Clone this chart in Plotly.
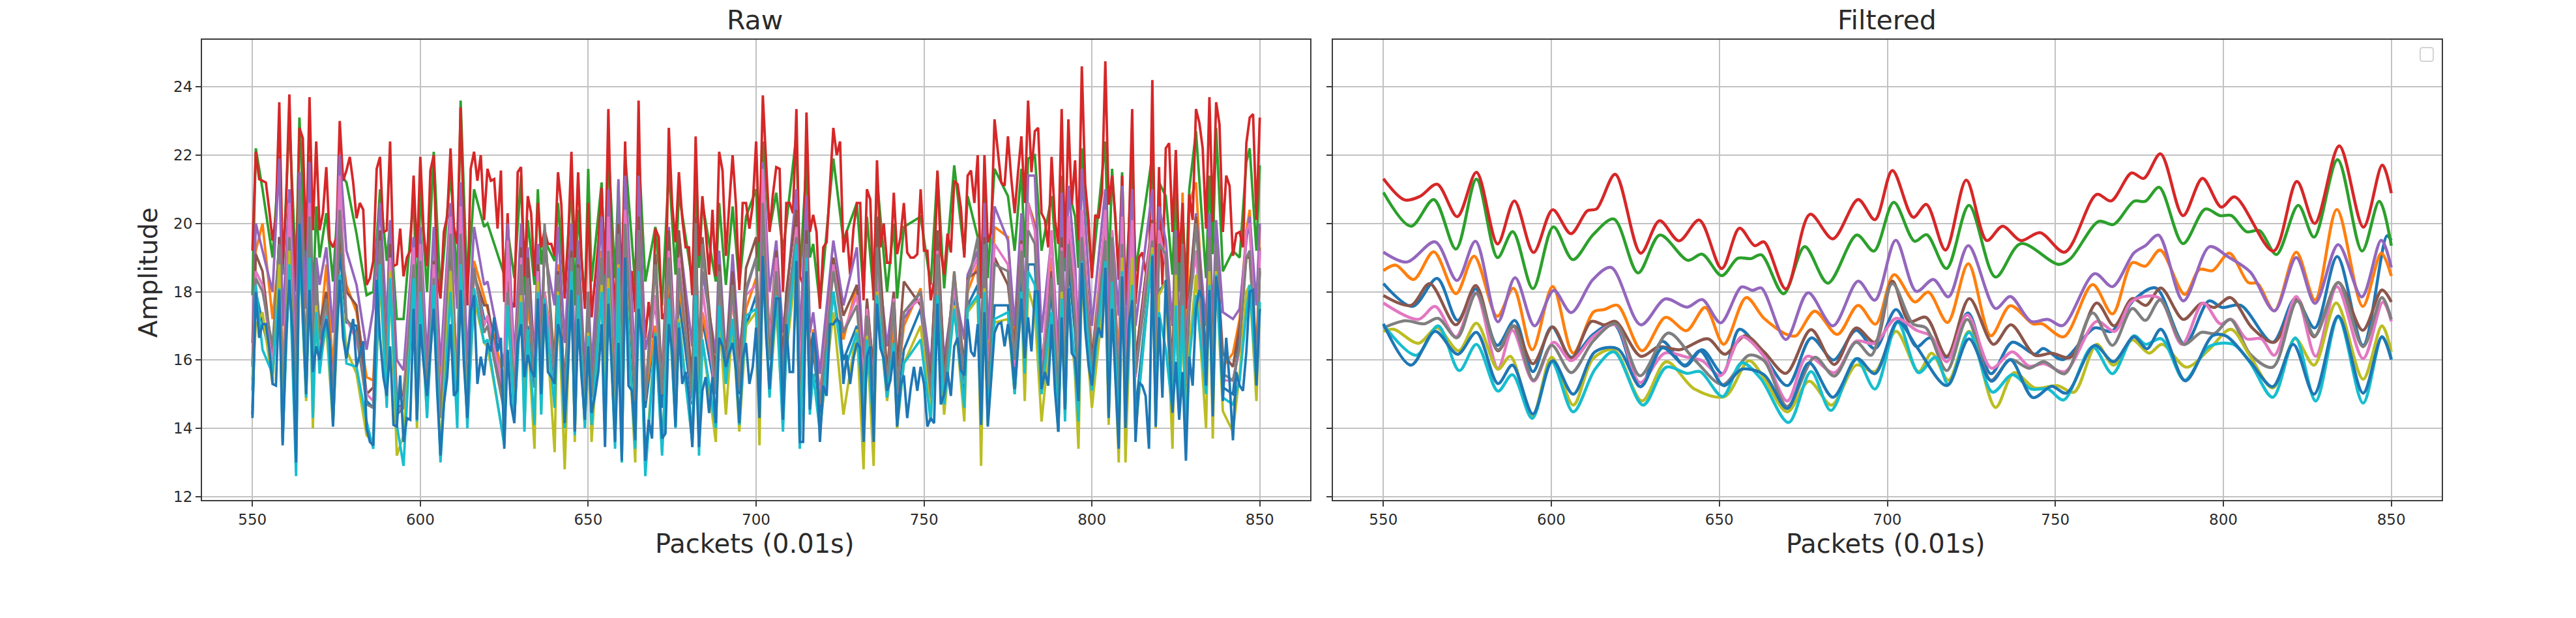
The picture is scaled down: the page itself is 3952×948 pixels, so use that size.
import plotly.graph_objects as go

W, H = 3952, 948
TAB = ["#1f77b4", "#ff7f0e", "#2ca02c", "#d62728", "#9467bd", "#8c564b", "#e377c2", "#7f7f7f", "#bcbd22", "#17becf", "#1f77b4"]

# ---------- RAW: packet-by-packet readings for the top (red) and bottom (blue) traces ----------
raw_start = 550
raw_red = [
19.2,22.1,21.3,21.25,21.2,20.4,19.5,20.2,23.55,18.8,
20.5,23.78,20.0,18.0,22.8,22.5,19.2,23.7,19.8,22.4,
19.8,20.3,21.65,19.5,19.3,19.6,23.0,21.25,21.55,21.95,
21.2,20.15,20.6,20.4,18.2,18.4,18.9,21.6,21.95,19.75,
19.8,22.4,18.75,18.8,19.85,18.45,19.0,19.2,21.4,19.0,
21.95,19.75,18.75,21.55,22.0,18.4,17.8,19.75,20.2,22.2,
19.9,19.4,23.4,19.8,17.6,21.6,22.1,21.25,22.0,20.1,
21.6,21.25,21.3,19.85,21.55,17.7,20.3,17.7,17.55,21.5,
21.65,18.45,20.8,20.3,18.45,20.6,19.3,19.8,19.4,19.4,
19.05,21.5,20.55,17.8,19.45,22.1,19.0,21.5,19.0,17.5,
20.6,17.25,18.35,19.4,21.05,18.5,23.35,19.0,17.4,20.5,
18.2,22.4,18.45,18.6,17.4,23.6,18.45,16.65,17.7,16.65,
19.85,19.6,17.2,17.4,22.8,20.55,19.45,21.5,20.15,19.3,
19.3,17.9,22.55,19.05,20.8,19.75,18.5,20.4,18.45,22.1,
21.55,19.05,20.55,22.0,20.55,18.05,20.6,20.6,19.85,20.55,
22.4,19.45,23.75,21.9,19.75,20.85,21.65,21.6,18.0,20.6,
20.6,20.3,23.35,18.45,18.2,23.25,19.75,20.25,19.75,17.5,
19.3,19.45,21.2,22.8,22.0,22.4,19.15,19.8,18.5,19.85,
20.6,20.6,17.75,21.0,20.7,17.75,21.85,19.3,20.0,18.85,
18.85,20.9,19.1,19.6,20.6,19.15,19.0,19.0,19.1,21.0,
19.2,19.2,17.75,18.3,21.55,19.15,18.5,19.7,19.15,21.25,
21.15,20.45,19.0,21.4,21.55,20.6,22.0,17.8,22.0,19.45,
19.75,23.05,22.1,21.2,21.1,22.55,21.3,20.3,21.5,22.55,
20.6,23.6,21.5,22.7,22.8,20.3,20.1,19.3,21.95,20.1,
19.4,23.35,19.0,23.05,20.55,21.85,19.5,24.6,21.15,20.1,
18.4,20.25,20.15,20.9,24.75,20.55,21.4,20.2,18.35,21.4,
17.6,19.75,23.35,17.65,19.0,19.15,18.6,18.1,24.2,17.45,
21.65,18.2,22.2,22.35,19.75,22.15,18.85,20.6,17.5,20.85,
20.1,23.35,22.95,22.2,19.85,23.7,20.05,23.55,22.9,19.75,
21.4,21.1,19.05,19.7,19.75,19.3,22.35,23.1,23.2,20.1,
23.1]
raw_blue2 = [
14.3,18.0,16.65,17.05,17.05,16.35,15.3,15.25,18.05,13.5,
16.65,18.35,16.65,13.0,20.0,17.4,15.0,18.05,15.65,16.4,
16.0,16.8,17.2,16.55,14.05,16.65,18.35,16.65,16.05,16.7,
17.2,15.8,16.2,16.55,14.0,13.6,13.5,18.35,16.65,15.5,
14.95,16.4,14.1,14.05,15.55,13.6,14.3,14.25,17.5,14.25,
17.05,15.85,14.95,16.25,17.5,15.1,13.2,14.7,15.5,17.05,
14.95,15.1,18.05,15.85,14.3,17.4,17.9,15.3,16.1,15.55,
16.5,16.25,17.25,16.25,16.65,13.4,16.3,14.7,14.15,16.5,
17.05,15.5,16.15,15.7,15.5,17.8,15.0,17.65,15.65,15.5,
15.3,17.05,16.65,14.15,15.85,18.05,13.9,17.2,15.5,14.25,
16.4,14.45,14.95,15.65,17.05,13.45,17.65,15.85,13.6,16.5,
13.05,19.0,15.25,15.1,13.65,17.5,16.65,13.05,14.25,13.7,
16.7,15.5,13.7,13.85,17.05,16.25,14.05,16.95,15.3,15.65,
14.95,13.45,16.1,13.45,15.1,15.5,14.45,15.5,14.15,16.65,
16.4,15.8,16.2,16.5,15.7,14.15,16.05,16.5,15.3,15.8,
16.95,14.3,19.05,16.65,15.15,16.7,17.8,17.8,14.25,17.05,
15.65,15.65,18.9,13.6,13.6,18.6,14.55,16.8,16.05,13.6,
15.25,14.95,17.05,17.05,17.2,17.1,15.3,16.15,15.3,16.05,
16.5,16.35,13.6,16.1,16.4,13.6,17.65,16.35,16.05,15.1,
15.4,16.25,14.05,15.25,15.55,14.3,15.15,15.8,15.1,15.8,
15.3,14.05,14.3,14.15,17.65,14.7,15.0,15.65,14.95,16.4,
16.65,15.7,15.55,17.2,16.25,16.1,17.05,14.1,17.4,14.05,
15.5,16.8,17.05,17.1,16.4,17.05,16.35,15.15,16.4,17.8,
16.05,17.25,16.25,18.0,18.0,15.15,15.65,15.25,17.05,15.1,
13.9,17.25,14.55,18.1,16.2,16.05,14.8,18.85,16.9,15.85,
15.25,16.4,16.95,16.65,18.7,14.3,17.5,15.5,13.4,18.45,
14.0,17.05,17.75,13.6,15.35,15.25,14.95,13.4,19.05,14.05,
17.25,14.9,18.35,16.4,14.45,15.95,14.25,15.65,13.05,16.1,
15.25,17.5,18.05,17.75,15.25,18.05,14.35,18.45,17.65,14.8,
16.65,15.35,13.65,15.65,15.25,15.1,16.25,18.0,18.05,15.25,
17.5]

# RAW: the tangled middle traces, read at the packets where the spikes turn
raw_mid_x = [
550,551,553,556,558,559,561,563,564,566,
567,568,569,570,572,574,576,578,581,584,
586,588,590,591,593,595,598,599,600,602,
604,606,609,611,612,614,616,619,620,625,
626,628,630,631,632,634,635,636,637,640,
641,643,645,646,647,649,650,651,654,655,
656,658,659,660,661,664,665,667,670,672,
674,676,677,681,682,683,684,688,689,691,
693,695,697,700,701,702,704,706,708,709,
712,713,715,716,717,719,723,726,730,732,
733,735,736,739,741,742,744,749,752,754,
756,759,762,763,766,767,768,769,771,775,
777,779,780,781,783,785,788,790,791,792,
793,795,796,797,800,804,805,806,808,809,
810,812,813,818,819,820,822,824,825,826,
827,828,829,831,834,835,836,837,839,842,
844,846,847,849,850]
raw_green = [
17.9,22.2,21.0,19.0,22.0,18.5,23.0,18.5,23.1,18.5,
22.0,17.5,20.5,19.0,20.3,18.3,21.5,21.2,19.7,17.9,
18.0,21.0,18.9,20.0,17.2,17.2,20.8,17.5,21.0,18.0,
22.1,17.9,21.5,18.2,23.6,18.0,21.0,19.9,20.0,18.5,
19.8,18.4,21.4,17.9,20.1,18.2,21.0,18.8,19.5,18.9,
20.6,18.0,21.2,17.6,20.4,17.6,21.6,18.3,21.2,17.9,
22.2,18.4,21.2,18.0,22.0,18.2,22.2,18.3,19.9,17.6,
21.6,18.5,20.9,18.3,21.3,18.7,20.6,18.3,20.6,18.2,
20.5,18.2,20.2,21.0,18.6,22.4,19.8,20.9,19.2,20.0,
22.6,18.4,21.8,19.0,19.4,17.6,21.9,19.5,20.6,18.0,
20.2,17.9,21.3,18.0,20.0,17.8,19.9,20.2,18.2,21.5,
18.1,21.7,19.1,20.8,19.6,17.9,21.7,18.4,21.6,20.8,
19.2,21.6,19.0,21.9,22.0,19.2,20.8,18.2,21.4,18.6,
21.0,20.2,18.7,22.2,18.5,22.4,18.3,21.6,18.5,21.5,
17.8,22.0,18.6,22.0,17.9,21.2,20.8,18.5,21.2,18.0,
20.4,18.2,21.0,22.7,18.4,21.4,19.1,22.8,18.6,19.2,
19.0,21.8,22.2,19.2,21.7]
raw_purple = [
16.5,20.0,19.2,18.0,21.9,17.0,21.0,16.8,21.5,17.5,
21.8,16.5,19.0,18.2,19.3,16.8,22.0,19.2,18.2,16.3,
17.5,20.6,17.0,20.1,16.0,15.7,19.6,16.5,19.9,16.0,
19.9,15.8,20.6,17.5,21.2,16.0,19.9,18.2,18.3,15.8,
20.0,16.0,20.0,16.5,19.3,16.0,19.4,17.0,19.2,17.6,
19.9,16.5,20.0,15.5,19.5,15.7,18.0,15.8,20.2,16.3,
21.0,16.2,21.3,16.0,21.4,15.8,21.4,16.3,17.6,15.6,
19.9,16.2,19.7,16.4,19.5,16.0,18.6,16.2,19.2,16.0,
19.1,16.2,18.0,19.0,16.6,21.8,18.0,19.5,16.8,17.8,
21.0,16.5,20.8,16.8,17.4,15.6,19.5,17.6,19.3,16.0,
17.7,15.6,19.2,16.4,18.0,15.6,17.2,18.0,15.8,19.3,
16.0,18.1,16.6,18.5,19.2,16.0,20.6,16.6,20.5,19.5,
17.0,20.3,17.3,21.4,21.4,16.8,19.6,16.2,20.9,16.4,
21.1,18.8,16.5,21.6,17.0,21.0,17.2,19.8,17.3,21.1,
16.4,21.0,17.0,21.0,16.0,20.5,19.5,17.0,19.8,16.6,
19.4,16.3,18.0,20.3,17.0,20.3,17.0,20.1,17.4,17.2,
17.5,19.5,20.2,17.6,20.0]
raw_orange = [
15.9,19.2,20.0,17.2,19.2,15.5,20.4,15.8,19.6,15.6,
19.6,15.6,18.2,16.6,18.8,15.7,19.6,18.2,17.4,15.5,
15.4,19.8,16.4,19.2,15.0,15.0,18.6,15.4,19.1,15.6,
19.2,15.2,19.4,15.5,19.9,15.3,18.9,17.8,17.5,15.4,
19.1,15.6,18.9,15.3,17.8,15.5,18.6,15.4,18.0,16.0,
18.8,15.0,18.8,14.8,18.0,15.0,17.3,15.4,19.2,15.2,
19.9,15.6,19.5,15.1,20.0,15.0,20.1,15.0,17.0,15.0,
18.6,15.8,18.2,15.4,18.4,15.4,17.4,15.4,18.0,15.6,
17.9,15.4,17.5,18.4,15.6,19.9,16.6,18.2,15.6,17.0,
19.3,15.6,19.1,15.2,16.9,15.0,18.7,16.6,18.2,15.4,
16.3,15.3,18.8,15.2,17.1,15.2,17.0,18.1,15.2,18.3,
15.0,18.6,15.3,18.0,18.8,15.3,19.9,15.4,19.9,19.6,
16.4,19.5,16.2,20.6,20.0,15.6,19.0,15.4,20.4,15.3,
19.8,17.4,15.4,20.3,16.0,20.2,15.9,19.2,16.0,20.0,
15.6,19.7,16.0,20.0,15.4,19.2,18.8,15.6,21.0,15.6,
20.9,15.8,20.6,21.2,15.8,20.0,15.9,19.6,15.8,16.2,
17.2,19.8,20.4,15.8,19.9]
raw_blue1 = [
14.4,18.0,17.1,15.8,19.6,14.0,19.4,14.3,20.0,15.5,
19.9,15.0,18.0,16.2,17.9,15.0,19.2,17.1,17.0,14.8,
14.6,19.2,16.0,18.8,14.6,14.7,18.0,14.8,18.2,15.2,
18.6,14.4,18.6,15.0,18.6,15.0,18.6,17.2,17.2,14.6,
18.2,14.9,18.4,15.2,17.0,15.2,18.4,15.4,18.0,15.4,
18.0,14.6,18.6,14.4,17.8,14.7,17.4,15.0,18.6,14.6,
18.8,14.4,18.3,14.4,20.0,14.4,18.8,14.6,17.0,14.6,
18.4,15.4,17.8,14.7,18.0,15.0,17.2,15.0,17.6,15.4,
17.2,15.0,17.0,17.9,15.0,19.8,16.0,18.2,15.0,17.1,
19.2,14.6,19.0,15.0,16.4,14.4,18.0,16.0,17.0,14.8,
16.2,14.4,18.4,15.0,16.6,14.6,16.3,17.5,15.0,18.0,
15.0,18.0,15.0,17.6,18.2,14.8,18.6,14.8,17.6,17.6,
15.5,18.6,15.8,18.8,18.8,15.4,18.0,14.4,18.0,14.8,
18.8,16.8,15.1,19.4,15.3,19.2,15.0,18.4,14.8,19.2,
14.6,18.6,14.5,19.2,14.8,18.0,18.3,15.0,17.8,14.8,
17.4,15.0,17.6,19.2,15.4,19.0,15.0,19.6,15.2,15.0,
16.8,19.6,20.0,15.6,19.3]
raw_brown = [
15.8,19.1,18.6,16.0,19.6,15.0,20.2,15.4,20.6,16.0,
20.3,15.5,18.2,17.0,18.0,15.2,19.7,18.0,17.6,15.0,
15.2,19.8,15.9,19.4,14.8,15.0,18.4,15.3,18.8,15.2,
18.9,14.9,19.4,15.4,20.0,15.0,18.5,17.6,17.6,14.8,
18.3,15.4,19.3,15.0,19.0,15.5,18.8,15.3,19.8,15.8,
18.6,15.2,19.2,14.8,18.8,15.0,17.7,15.1,18.9,15.2,
19.8,15.2,20.0,15.4,19.7,15.0,20.2,14.9,19.1,15.3,
19.8,15.3,19.8,15.4,20.2,15.3,19.6,15.5,18.8,15.8,
18.6,15.6,18.7,19.6,15.4,20.8,16.6,19.2,16.0,18.0,
20.4,15.2,19.8,16.2,16.8,14.9,19.0,17.3,18.2,15.6,
17.8,15.6,20.2,15.6,18.0,15.8,18.3,17.6,15.4,19.8,
15.6,18.4,15.8,18.4,18.6,15.6,19.6,15.4,19.0,18.2,
16.4,19.5,16.5,20.6,19.9,15.8,18.6,15.3,19.6,15.6,
19.8,17.6,15.6,20.1,16.0,19.9,15.6,19.6,15.4,19.6,
15.5,19.3,16.0,20.1,15.4,19.4,19.0,15.7,19.6,15.4,
18.8,15.6,18.0,20.2,16.0,19.6,15.8,19.2,16.2,15.8,
17.0,19.0,19.0,16.0,18.6]
raw_pink = [
15.4,18.6,18.2,15.8,19.3,14.8,20.6,15.0,20.0,15.6,
20.6,15.2,18.0,16.4,17.6,15.0,21.4,17.2,16.6,15.0,
14.8,19.4,15.7,19.0,14.5,14.7,19.3,15.1,19.4,15.0,
18.8,14.8,20.2,15.2,20.5,14.6,18.6,17.0,17.3,15.0,
19.5,15.4,19.0,15.1,18.4,15.5,18.6,15.2,18.0,15.6,
18.2,14.9,18.6,14.7,18.1,14.9,16.9,15.0,18.6,15.3,
20.2,15.0,18.8,15.0,20.4,15.0,19.8,15.1,17.9,15.2,
19.2,15.7,19.0,14.8,18.8,15.3,18.1,15.0,18.4,15.6,
17.9,15.4,17.9,18.2,15.0,21.6,16.4,19.0,15.4,17.1,
19.9,15.4,19.4,15.4,16.6,14.9,18.8,16.8,17.9,15.4,
17.5,15.2,18.8,15.2,17.8,15.0,17.4,17.8,14.8,19.2,
15.0,18.2,15.4,18.3,19.0,15.0,19.0,15.2,19.4,18.8,
15.8,19.4,16.0,20.6,19.8,15.4,19.8,15.0,19.3,15.2,
20.2,18.2,15.1,20.4,15.5,20.4,15.2,19.8,15.2,20.2,
15.2,20.1,15.5,20.0,15.0,19.8,18.8,15.3,18.8,15.2,
18.4,15.3,17.7,19.2,15.1,18.8,15.0,19.4,15.4,15.4,
16.3,19.8,20.0,15.2,19.2]
raw_gray = [
15.1,18.4,18.0,16.4,19.4,14.6,19.6,14.9,21.0,15.6,
20.2,15.2,18.6,16.6,17.8,14.9,20.4,17.2,16.8,14.7,
14.6,19.5,15.8,18.6,14.4,14.6,18.8,14.6,18.9,15.0,
18.4,14.3,19.7,15.0,19.7,14.7,18.7,16.8,17.0,14.5,
18.0,15.0,18.8,14.8,18.4,15.2,18.2,15.0,20.0,15.4,
18.5,14.9,19.0,14.6,18.7,14.8,18.0,14.9,19.0,15.0,
19.2,14.9,19.7,15.2,20.0,14.8,19.8,14.8,18.8,15.0,
19.0,15.0,18.7,14.9,20.0,15.0,19.4,15.0,18.6,15.6,
18.2,15.1,18.1,19.0,14.9,20.6,16.0,18.6,15.4,17.4,
19.6,14.7,19.4,15.6,16.5,14.7,18.6,16.8,17.6,15.0,
17.3,15.2,19.3,15.2,17.7,15.0,17.4,18.0,14.9,19.1,
15.2,18.6,15.4,18.2,19.6,15.0,19.4,14.9,18.8,18.6,
16.0,19.2,16.2,19.8,19.4,15.3,18.4,14.9,19.2,15.0,
19.4,17.2,15.1,19.6,15.7,19.5,15.2,19.6,15.0,19.4,
15.1,19.0,15.6,19.5,15.0,19.4,19.1,15.2,19.6,15.0,
19.4,15.3,17.4,20.0,15.4,19.6,15.4,19.4,15.6,15.4,
16.4,19.0,19.2,15.5,18.7]
raw_olive = [
15.4,17.0,17.4,15.3,18.8,13.7,19.2,13.4,19.3,14.8,
19.0,14.0,17.6,15.8,17.0,14.1,18.4,16.3,15.6,13.8,
13.6,18.4,14.7,18.6,13.2,13.8,18.0,14.0,17.6,14.4,
18.0,13.3,18.6,14.4,18.8,14.2,17.8,16.5,16.4,13.6,
17.6,14.4,17.9,14.0,16.8,13.4,18.3,14.5,17.8,13.3,
18.0,12.8,18.6,13.6,17.8,14.0,16.8,13.6,18.2,14.6,
18.4,13.6,18.8,13.0,18.7,13.0,18.5,12.9,16.8,13.3,
17.6,14.2,17.2,13.6,17.8,13.6,16.6,13.6,17.4,14.4,
17.1,13.9,17.0,17.4,13.5,19.0,15.0,17.5,14.3,16.2,
18.8,13.6,18.4,14.7,15.6,14.0,17.4,14.4,16.9,12.8,
16.7,12.9,18.0,14.8,16.3,14.0,15.9,17.0,14.4,17.5,
14.4,17.6,14.2,17.4,17.8,12.9,18.1,14.1,17.1,17.2,
15.0,17.8,14.8,18.1,17.4,14.2,17.1,13.9,18.0,14.3,
18.1,15.5,13.4,18.4,14.6,18.3,14.1,18.1,13.0,19.0,
13.0,19.0,13.9,19.3,14.0,17.9,18.3,13.4,18.5,14.5,
17.2,14.0,16.3,18.5,14.0,18.6,13.7,18.6,14.5,13.9,
15.6,18.0,18.2,14.8,17.6]
raw_cyan = [
14.6,18.2,16.3,15.6,18.1,13.6,18.8,12.6,19.4,14.9,
19.0,14.3,17.4,15.6,17.3,14.2,18.5,15.9,15.8,14.2,
13.4,18.8,14.6,18.4,14.1,12.9,18.4,14.2,18.0,14.3,
18.2,13.0,18.0,14.0,18.8,14.0,18.1,16.5,16.6,13.5,
17.6,14.3,17.7,13.9,16.9,14.1,18.0,14.4,17.8,14.6,
17.9,14.0,18.6,13.8,17.9,14.0,16.7,14.1,18.0,13.8,
18.1,13.4,18.7,13.0,18.4,13.4,18.6,12.6,16.8,13.2,
17.8,14.0,17.1,13.6,17.9,13.2,16.6,14.0,17.6,15.3,
17.2,14.1,17.3,17.5,14.4,18.9,14.9,17.9,13.9,16.4,
19.4,13.4,19.0,14.4,15.6,13.9,18.0,15.6,16.8,14.6,
16.6,14.0,17.9,14.9,16.5,14.1,15.9,16.6,14.2,17.9,
14.7,17.5,14.6,17.5,17.9,14.1,18.0,14.3,17.2,17.4,
15.0,18.0,15.6,18.6,18.2,15.0,17.4,13.9,17.8,14.2,
18.0,15.8,14.2,18.9,15.1,18.9,14.4,18.3,13.9,18.6,
14.3,18.2,14.0,19.1,14.6,17.4,16.3,14.5,17.6,14.6,
17.6,13.8,16.0,17.9,15.0,18.2,14.7,18.5,14.9,14.7,
15.4,17.4,18.2,15.3,17.7]

# ---------- FILTERED: turning points read per trace ----------
fx_blue1 = [550,558.7,566,572.1,577.5,583.9,589.1,594.5,600.1,605.9,612.4,618.6,626.4,633,639.8,644.9,651,656,663.3,670.3,677.4,684,690.7,696.3,702.6,708.7,712.6,717.7,724,730.8,737.2,743.9,746.4,752.2,761.7,766.7,773.4,779.9,788.5,795.7,799.6,805.2,814.7,821.4,827.2,833.9,841.6,848.7,850]
fy_blue1 = [18.24,17.57,18.39,17.16,18.08,16.43,17.16,15.66,16.97,16.08,16.75,17.06,15.22,16.55,15.82,16.3,15.6,16.9,16.11,15.25,16.65,16.0,16.87,16.33,17.48,16.39,16.65,16.08,17.38,15.6,16.52,16.17,16.34,16.01,16.94,16.84,17.76,18.11,16.46,17.73,17.54,17.6,16.52,17.8,16.94,19.03,16.43,19.64,19.5]
fx_orange = [550,553.7,559,565,571.6,577,583.9,588.7,594.3,600.4,606.5,612.6,615.8,619.7,627,634,640.2,645.8,651.3,658,663.3,670,672.8,678.4,685.1,691.3,696.5,702,708.2,712.2,717.9,724.1,730.8,736.6,743.3,746.1,752.5,761.1,767,772.9,776.8,781.2,788.5,792.9,796.8,801.8,807.4,810.2,815.2,821.7,827.3,833.8,841.5,847,850]
fy_orange = [18.62,18.78,18.36,19.17,17.94,19.04,17.28,18.1,16.3,18.15,16.2,17.41,17.48,17.6,16.27,17.25,16.86,17.54,16.46,17.83,17.22,16.75,16.71,17.43,16.75,17.6,17.05,18.5,17.7,17.99,17.1,18.82,16.71,17.59,17.06,17.06,16.68,18.21,17.35,18.85,18.75,19.22,17.92,18.65,18.62,19.13,18.27,18.24,17.44,19.16,17.76,20.41,17.57,19.13,18.46]
fx_green = [550,558.2,565,571.6,577.7,584,588.5,594.5,600.6,606.4,612.4,618.6,625.8,632.3,640.6,644.9,650.7,655.5,659.4,662.5,669.1,675.4,682.3,690.9,696,701.9,708.1,711.7,717.6,724.3,732.2,739.7,751,754.5,762.9,767.3,773.4,776.8,780.9,788,794.6,799,802.4,806.9,810.8,815.8,822.3,827,834,841.3,846.4,850]
fy_green = [20.91,19.92,20.7,19.25,21.3,19.0,19.76,18.09,19.9,18.94,19.67,20.13,18.55,19.66,18.92,19.1,18.47,18.98,18.97,19.08,17.94,19.32,18.25,19.66,19.19,20.62,19.48,19.67,18.68,20.53,18.43,19.41,18.8,18.97,20.06,19.97,20.65,20.65,21.06,19.41,20.42,20.23,20.23,19.76,19.79,19.09,20.53,19.6,21.87,19.19,20.65,19.35]
fx_red = [550,556.3,561,566,572,577.7,584,589,594.7,600.4,605.8,610.7,613.5,619,626.6,632.2,638,644,650.7,656,660.5,663.3,669.8,677,683.8,691.3,696.3,701.5,707.7,711.6,717.3,723.5,729.6,734.3,739.7,745.5,752.8,762.3,766.6,772.7,776.3,781.3,788,793.8,799.4,803.4,814.9,821.9,827.2,834.5,841.7,847.3,850]
fy_red = [21.31,20.69,20.8,21.15,20.2,21.5,19.4,20.66,19.15,20.4,19.7,20.37,20.43,21.44,19.13,20.08,19.49,20.1,18.68,19.86,19.35,19.46,18.08,20.27,19.55,20.7,20.11,21.55,20.18,20.56,19.22,21.27,19.5,19.92,19.5,19.73,19.16,20.85,20.66,21.48,21.32,22.04,20.23,21.32,20.48,20.78,19.19,21.23,20.0,22.27,19.89,21.71,20.89]
fx_purple = [550,557,565.4,571.9,577.4,584.1,589.2,595,600.7,605.9,612.4,617.8,626.6,633.9,640.4,644.9,650.4,656.6,659.9,662.5,669.8,676.4,683.8,691.3,696.3,702.5,708.6,713.7,718.2,724.1,732.2,736.6,742.8,747.8,752.2,761.7,767,773.4,776.8,780.7,788.1,795.9,801.3,808,815.2,821.7,827.3,834.2,841.2,847,850]
fy_purple = [19.16,18.87,19.46,18.33,19.48,17.12,18.41,17.0,18.04,17.39,18.36,18.71,17.03,17.79,17.55,17.77,17.09,18.14,18.04,18.11,16.6,17.97,17.0,18.31,17.75,19.51,18.01,18.36,17.85,19.35,17.51,17.86,17.13,17.19,17.01,18.53,18.15,19.14,19.35,19.66,17.73,19.32,19.03,18.58,17.44,19.0,17.66,19.38,17.85,19.51,18.71]
fx_brown = [550,558.2,563.8,571.6,577.5,584.1,588.9,594.5,600.4,605.9,611.9,615.8,619.1,626.6,632,638.2,646.6,651.6,657.7,663.3,669.8,677.3,684.2,690.7,696.3,701.5,706.5,711.5,717.7,724.4,731.6,736.8,743.9,748.9,754.5,762.3,767.5,772.9,777,781.4,788.1,793.5,797.4,802.1,808.6,815.2,822,827,834.2,841.5,847.2,850]
fy_brown = [17.89,17.6,18.24,17.03,18.18,16.27,17.0,15.89,16.97,16.04,17.13,17.03,17.13,16.11,16.39,16.3,16.62,16.17,16.71,16.24,15.61,16.89,15.87,16.94,16.52,18.31,17.13,17.25,16.11,17.8,16.46,17.03,16.14,16.2,16.08,17.67,17.0,17.8,17.6,18.11,17.19,17.66,17.54,17.83,16.94,16.52,17.8,16.68,18.27,16.87,18.05,17.7]
fx_pink = [550,560.4,565.4,571.6,577.5,584.1,588.4,594.7,600.7,605.9,612.4,619.1,626.4,633.7,640.4,644.9,650.4,656.6,663.3,670.2,676.2,684.2,690.7,696.3,702.6,708.7,713,717.7,723.8,731,737.2,742.2,746.6,752.8,762.3,767.7,772.9,780.7,787.7,794,799.1,802.4,806.9,811.3,815.2,821.7,827.5,833.8,841.6,847.5,850]
fy_pink = [17.67,17.19,17.57,16.68,17.96,15.76,16.87,15.38,16.52,15.98,16.68,17.03,15.34,16.2,16.08,15.98,15.54,16.68,16.11,14.8,16.11,15.63,16.55,16.49,17.22,16.87,16.7,15.95,17.32,15.76,16.24,15.82,15.89,15.66,17.13,16.84,17.73,17.83,16.46,17.67,17.06,17.19,16.62,16.62,16.14,17.86,16.11,18.15,16.04,17.7,17.13]
fx_gray = [550,556.5,562.1,566.3,571.9,577.7,584.1,588.6,594.7,600.1,605.9,612.4,619.1,626.4,634.8,642.6,651,658.8,663.3,670.2,678.4,684.2,690.7,695.2,701.5,707.6,711.5,717.7,723.8,730.8,736.6,742.2,746.6,752.8,761.1,767,772.9,776.8,781.2,788.1,793.5,797.4,802.1,808,814.7,822,827.2,834.2,841.6,847.2,850]
fy_gray = [16.94,17.15,17.06,17.22,16.65,17.96,16.3,17.0,15.41,16.43,15.63,16.55,17.06,15.54,16.79,16.01,15.28,16.14,15.98,14.64,16.08,15.53,16.52,16.14,18.24,17.06,16.94,15.69,17.19,15.41,16.01,15.76,15.95,15.6,17.38,16.43,17.51,17.16,17.76,16.46,16.81,16.78,17.19,16.17,15.79,17.73,16.71,18.27,16.39,17.83,17.19]
fx_olive = [550,553.1,560.4,566,572.4,577.7,584.1,587.8,594.3,600.1,606.5,612.4,618.6,627,634.2,642.6,651.6,658.8,663.3,670.2,676.7,683.4,690.7,696.3,702.6,709.3,713.2,718.2,724.3,732.2,737.7,743.9,750.6,755.6,762.3,767.3,772.9,777.9,781.8,789,795.7,802.2,808,814.7,821.4,827,833.6,841.6,847.2,850]
fy_olive = [16.84,16.9,16.49,16.94,16.27,17.08,15.73,16.11,14.36,16.08,14.68,16.04,16.3,14.8,15.95,15.15,14.93,15.98,15.47,14.48,15.38,14.68,15.85,15.66,16.84,15.66,16.2,15.41,16.84,14.61,15.63,15.18,15.25,15.06,16.46,15.85,16.59,16.2,16.46,15.79,16.3,16.9,16.11,15.18,16.62,15.85,17.67,15.44,17.0,16.24]
fx_cyan = [550,559.8,566.3,572.6,577.7,584.1,588.4,594.3,600.1,606.5,613,618.6,627.3,634.2,640.4,644.3,651,656.6,662.2,670.6,677.3,683.2,690.7,696.3,703.1,709.3,714.3,718.2,724.3,731.3,737.2,742.8,747.8,752.5,761.1,767,773.4,776.8,781.6,788.5,795.7,802.9,808,814.7,821.4,827.5,834.2,841.6,847.2,850]
fy_cyan = [17.03,16.14,17.0,15.69,16.46,15.09,15.57,14.29,15.95,14.48,15.73,16.24,14.68,15.79,15.61,15.66,14.93,15.92,15.47,14.17,15.66,14.52,16.04,15.15,17.1,15.63,16.08,15.28,16.81,15.06,15.57,15.15,15.15,14.83,16.39,15.6,16.71,16.46,16.62,15.41,16.39,16.46,15.92,14.91,16.65,14.8,17.25,14.74,16.68,16.04]
fx_blue2 = [550,558.2,565.4,572.1,577.7,584.1,588.4,594.5,600.4,606.5,613,619.7,626.6,633.1,639.8,644.3,651.3,656.6,663.3,670.2,676.7,683.8,691,696.3,703.1,708.7,717.7,724.3,731,736.6,743.3,748.9,753.3,761.7,767.3,773.4,777.3,781.4,788.7,796.8,800.7,808,814.7,820.8,827,834.2,841.6,847.2,850]
fy_blue2 = [17.06,15.85,16.84,16.17,16.81,15.31,15.85,14.42,15.98,15.0,16.24,16.33,15.22,16.36,15.85,16.27,15.25,15.73,15.57,14.58,15.92,14.91,16.04,15.6,17.13,16.39,15.25,16.62,15.38,16.01,14.9,15.23,15.03,16.43,15.95,16.68,16.33,16.9,15.39,16.71,16.71,15.95,15.22,16.46,15.0,17.29,15.03,16.68,16.01]

y_ticks = [12, 14, 16, 18, 20, 22, 24]
x_ticks = [550, 600, 650, 700, 750, 800, 850]
raw_packets = list(range(raw_start, raw_start + len(raw_red)))

raw_series = [
    (raw_mid_x, raw_blue1), (raw_mid_x, raw_orange), (raw_mid_x, raw_green),
    (raw_packets, raw_red), (raw_mid_x, raw_purple), (raw_mid_x, raw_brown),
    (raw_mid_x, raw_pink), (raw_mid_x, raw_gray), (raw_mid_x, raw_olive),
    (raw_mid_x, raw_cyan), (raw_packets, raw_blue2),
]
filt_series = [
    (fx_blue1, fy_blue1), (fx_orange, fy_orange), (fx_green, fy_green),
    (fx_red, fy_red), (fx_purple, fy_purple), (fx_brown, fy_brown),
    (fx_pink, fy_pink), (fx_gray, fy_gray), (fx_olive, fy_olive),
    (fx_cyan, fy_cyan), (fx_blue2, fy_blue2),
]

fig = go.Figure()
for c, (xs, ys) in zip(TAB, raw_series):
    fig.add_trace(go.Scatter(x=xs, y=ys, mode="lines", xaxis="x", yaxis="y",
                             line=dict(color=c, width=3.8), hoverinfo="skip"))
for c, (xs, ys) in zip(TAB, filt_series):
    fig.add_trace(go.Scatter(x=xs, y=ys, mode="lines", xaxis="x2", yaxis="y2",
                             line=dict(color=c, width=4.6, shape="spline", smoothing=0.9), hoverinfo="skip"))

FONT = "DejaVu Sans"
INK = "#2b2b2b"
def px(v): return v / W
def py(v): return 1 - v / H

xcommon = dict(range=[535, 865], tickvals=x_ticks, showgrid=True, gridcolor="#c2c2c2", gridwidth=1.6,
               zeroline=False, showline=True, mirror=True, linecolor="#3c3c3c", linewidth=2,
               ticks="outside", ticklen=8, tickwidth=2, tickcolor="#3c3c3c",
               tickfont=dict(family=FONT, size=23, color=INK))
ycommon = dict(range=[11.9, 25.38], tickvals=y_ticks, showgrid=True, gridcolor="#c2c2c2", gridwidth=2,
               zeroline=False, showline=True, mirror=True, linecolor="#3c3c3c", linewidth=2,
               ticks="outside", ticklen=8, tickwidth=2, tickcolor="#3c3c3c",
               tickfont=dict(family=FONT, size=23, color=INK))

def label(text, x, y, size, angle=0):
    return dict(text=text, x=px(x), y=py(y), xref="paper", yref="paper", showarrow=False,
                xanchor="center", yanchor="middle", textangle=angle,
                font=dict(family=FONT, size=size, color=INK))

lx0, lx1, ly0, ly1, r = 3713, 3733, 73, 94, 4
legend_path = (f"M {px(lx0+r)} {py(ly0)} L {px(lx1-r)} {py(ly0)} Q {px(lx1)} {py(ly0)} {px(lx1)} {py(ly0+r)} "
               f"L {px(lx1)} {py(ly1-r)} Q {px(lx1)} {py(ly1)} {px(lx1-r)} {py(ly1)} "
               f"L {px(lx0+r)} {py(ly1)} Q {px(lx0)} {py(ly1)} {px(lx0)} {py(ly1-r)} "
               f"L {px(lx0)} {py(ly0+r)} Q {px(lx0)} {py(ly0)} {px(lx0+r)} {py(ly0)} Z")

fig.update_layout(
    width=W, height=H, paper_bgcolor="white", plot_bgcolor="white",
    margin=dict(l=0, r=0, t=0, b=0, autoexpand=False), showlegend=False,
    xaxis=dict(domain=[px(310), px(2010)], anchor="y", **xcommon),
    yaxis=dict(domain=[py(767), py(61)], anchor="x", **ycommon),
    xaxis2=dict(domain=[px(2045), px(3746)], anchor="y2", **xcommon),
    yaxis2=dict(domain=[py(767), py(61)], anchor="x2", showticklabels=False, **ycommon),
    annotations=[
        label("Raw", 1158, 31, 41), label("Filtered", 2895, 31, 41),
        label("Packets (0.01s)", 1158, 834, 40), label("Packets (0.01s)", 2893, 834, 40),
        label("Amplitude", 227, 418, 39, -90),
    ],
    shapes=[dict(type="path", path=legend_path, xref="paper", yref="paper",
                 line=dict(color="#d4d4d4", width=2), fillcolor="white")],
)
fig.write_html("out.html", config=dict(displayModeBar=False),
               post_script="document.body.style.margin='0';document.documentElement.style.overflow='hidden';")
